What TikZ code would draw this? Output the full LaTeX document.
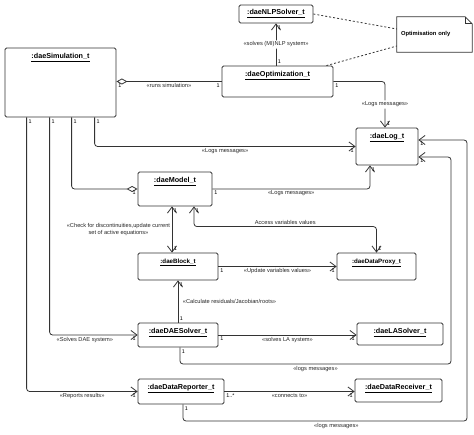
\documentclass[tikz,border=0pt]{standalone}
\usepackage{fontspec}
\setmainfont{Liberation Sans}
\usetikzlibrary{arrows.meta}

\tikzset{
    obj/.style={draw=black!80, line width=0.8pt, rounded corners=1.5pt, fill=white, inner sep=0pt},
    objtitle/.style={anchor=center, yshift=-10pt, font=\fontsize{7.2}{8}\selectfont\bfseries},
    smalltitle/.style={objtitle, font=\fontsize{6.2}{7}\selectfont\bfseries},
    lbl/.style={font=\fontsize{5.7}{6.7}\selectfont, text=black!85, inner sep=1.5pt},
    mult/.style={font=\fontsize{5.4}{6}\selectfont, inner sep=1.5pt},
    conn/.style={line width=0.8pt, draw=black!80, rounded corners=3pt},
    nav/.style={conn, -{Straight Barb[length=6pt,width=9pt]}},
    bnav/.style={conn, {Straight Barb[length=6pt,width=9pt]}-{Straight Barb[length=6pt,width=9pt]}},
    aggr/.style={conn, -{Diamond[open, length=11pt, width=6pt]}},
    noteline/.style={line width=0.8pt, draw=black!80, dash pattern=on 2pt off 2pt}
}

\begin{document}
\begin{tikzpicture}[x=1pt, y=1pt]

    \useasboundingbox (0,0) rectangle (474,434);

    % objects
    \node[obj, minimum width=111pt, minimum height=69pt, label={[objtitle]north:\underline{:daeSimulation\_t}}] (sim) at (60.5,351.5) {};
    \node[obj, minimum width=111pt, minimum height=31pt, label={[objtitle]north:\underline{:daeOptimization\_t}}] (opt) at (277.5,352.5) {};
    \node[obj, minimum width=74pt, minimum height=18pt, label={[objtitle, yshift=1pt]north:\underline{:daeNLPSolver\_t}}] (nlp) at (276,420) {};
    \node[obj, minimum width=62pt, minimum height=37pt, label={[objtitle]north:\underline{:daeLog\_t}}] (log) at (387,287.5) {};
    \node[obj, minimum width=74pt, minimum height=34pt, label={[objtitle]north:\underline{:daeModel\_t}}] (model) at (175,245) {};
    \node[obj, minimum width=80pt, minimum height=27pt, label={[smalltitle]north:\underline{:daeBlock\_t}}] (block) at (178,167.5) {};
    \node[obj, minimum width=79pt, minimum height=27pt, label={[smalltitle]north:\underline{:daeDataProxy\_t}}] (proxy) at (376.5,167.5) {};
    \node[obj, minimum width=80pt, minimum height=24pt, label={[objtitle]north:\underline{:daeDAESolver\_t}}] (dae) at (178,99) {};
    \node[obj, minimum width=86pt, minimum height=22pt, label={[objtitle]north:\underline{:daeLASolver\_t}}] (la) at (400,100) {};
    \node[obj, minimum width=86pt, minimum height=25pt, label={[objtitle]north:\underline{:daeDataReporter\_t}}] (rep) at (181,42.5) {};
    \node[obj, minimum width=87pt, minimum height=23pt, label={[objtitle]north:\underline{:daeDataReceiver\_t}}] (rcv) at (398.5,43.5) {};

    % note
    \node[minimum width=75pt, minimum height=35pt, text width=67pt, inner sep=4pt, align=left,
          font=\fontsize{5.8}{6.8}\selectfont\bfseries] (note) at (434.5,399.5) {Optimisation only};
    \draw[line width=0.8pt, draw=black!80] (note.north west) -- ([xshift=-7pt]note.north east) -- ([yshift=-7pt]note.north east)
        -- (note.south east) -- (note.south west) -- cycle;
    \draw[line width=0.7pt, draw=black!80] ([xshift=-7pt]note.north east) |- ([yshift=-7pt]note.north east);
    \draw[noteline] (nlp.east) -- ([yshift=5.5pt]note.west);
    \draw[noteline] ([xshift=-7pt]opt.north east) -- ([yshift=-11.5pt]note.west);

    % links of the simulation
    \draw[aggr] (opt.west) -- node[lbl, below]{«runs simulation»} node[mult, at start, below left]{1}
        node[mult, at end, below right]{1} (opt.west -| sim.east);
    \draw[nav] ([xshift=90pt]sim.south west) |- node[lbl, pos=0.75, below]{«Logs messages»}
        node[mult, at start, below right]{1} node[mult, at end, below left]{1} (log.west);
    \draw[aggr] ([xshift=67pt]sim.south west) |- node[mult, at start, below right]{1}
        node[mult, at end, below left]{1} (model.west);
    \draw[nav] ([xshift=45pt]sim.south west) |- node[lbl, pos=0.7, below]{«Solves DAE system»}
        node[mult, at start, below right]{1} node[mult, at end, below left]{1} (dae.west);
    \draw[nav] ([xshift=22pt]sim.south west) |- node[lbl, pos=0.75, below]{«Reports results»}
        node[mult, at start, below right]{1} node[mult, at end, below left]{1} (rep.west);

    % optimisation
    \draw[nav] (opt.north -| nlp.south) -- node[lbl, fill=white]{«solves (MI)NLP system»}
        node[mult, at start, above right]{1} node[mult, at end, below right]{1} (nlp.south);
    \draw[nav] (opt.east) -| node[lbl, fill=white, pos=0.75]{«Logs messages»}
        node[mult, at start, below right]{1} node[mult, at end, above right]{1} ([xshift=-2pt]log.north);

    % model and block
    \draw[nav] (model.east) -| node[lbl, pos=0.25, below]{«Logs messages»}
        node[mult, at start, below right]{1} node[mult, at end, below right]{1} ([xshift=-17pt]log.south);
    \draw[bnav] ([xshift=-3pt]model.south) -- node[lbl, left, align=center]{«Check for discontinuities,update current\\set of active equations»}
        node[mult, at start, below right]{1} node[mult, at end, above right]{1} ([xshift=-3pt]model.south |- block.north);
    \draw[bnav] ([xshift=19pt]model.south) |- node[lbl, pos=0.75, above]{Access variables values}
        node[mult, at start, below right]{1} ([yshift=26pt]proxy.north) -- node[mult, at end, above right]{1} (proxy.north);
    \draw[nav] (block.east) -- node[lbl, below]{«Update variables values»}
        node[mult, at start, below right]{1} node[mult, at end, below left]{1} (proxy.west);

    % solvers and reporting
    \draw[nav] (dae.north) -- node[lbl, right, xshift=3pt]{«Calculate residuals/Jacobian/roots»}
        node[mult, at start, above right]{1} node[mult, at end, below right]{1} (block.south);
    \draw[nav] (dae.east) -- node[lbl, below]{«solves LA system»}
        node[mult, at start, below right]{1} node[mult, at end, below left]{1} (dae.east -| la.west);
    \draw[nav] ([xshift=2pt]dae.south) |- node[lbl, pos=0.75, below]{«logs messages»}
        node[mult, at start, below right]{1} (451,70) |- node[mult, at end, below right]{1} ([yshift=-10.5pt]log.east);
    \draw[nav] (rep.east) -- node[lbl, below]{«connects to»}
        node[mult, at start, below right]{1..*} node[mult, at end, below left]{1} (rep.east -| rcv.west);
    \draw[nav] ([xshift=2pt]rep.south) |- node[lbl, pos=0.77, below]{«logs messages»}
        node[mult, at start, below right]{1} (467,13) |- node[mult, at end, below right]{1} ([yshift=6.5pt]log.east);

\end{tikzpicture}
\end{document}
